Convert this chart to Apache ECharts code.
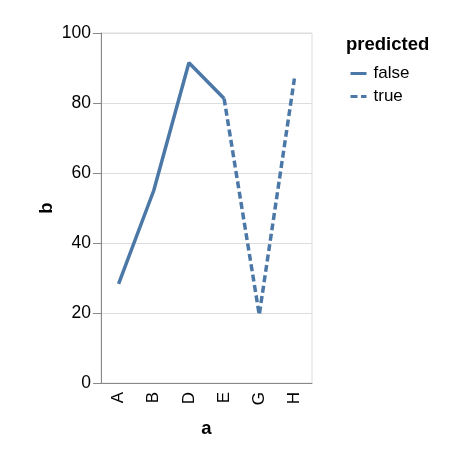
<!DOCTYPE html>
<html>
<head>
<meta charset="utf-8">
<script src="https://cdn.jsdelivr.net/npm/echarts@6/dist/echarts.min.js"></script>
<style>
  html, body { margin: 0; padding: 0; background: #fff; }
  #main { width: 474px; height: 465px; }
</style>
</head>
<body>
<div id="main"></div>
<script type="text/javascript">
    // data
    var categories = ['A', 'B', 'D', 'E', 'G', 'H'];
    var predFalse = [28.3, 55, 91.5, 81.3, null, null];
    var predTrue = [null, null, null, 81.3, 19.5, 87];
    var yTicks = { min: 0, max: 100, interval: 20 };

    var font = 'Liberation Sans, Helvetica, Arial, sans-serif';
    var blue = '#4c78a8';

    var myChart = echarts.init(document.getElementById('main'));
    myChart.setOption({
        animation: false,
        textStyle: { fontFamily: font },
        title: {
            text: 'predicted',
            left: 341,
            top: 30,
            textStyle: { fontSize: 18.5, fontWeight: 'bold', color: '#000', fontFamily: font }
        },
        legend: {
            orient: 'vertical',
            left: 344,
            top: 60,
            itemWidth: 16,
            itemHeight: 3,
            itemGap: 6,
            itemStyle: { opacity: 0 },
            lineStyle: { width: 3 },
            textStyle: { fontSize: 17, color: '#000', fontFamily: font, padding: [0, 0, 0, 2] },
            data: ['false', 'true']
        },
        grid: {
            left: 101,
            right: 162,
            top: 33,
            bottom: 82,
            show: true,
            borderColor: '#ddd',
            borderWidth: 1
        },
        xAxis: {
            type: 'category',
            data: categories,
            boundaryGap: true,
            name: 'a',
            nameLocation: 'middle',
            nameGap: 36,
            nameTextStyle: { fontSize: 18.5, fontWeight: 'bold', color: '#000' },
            axisLine: { lineStyle: { color: '#888', width: 1 } },
            axisTick: { alignWithLabel: true, length: 8, lineStyle: { color: '#888' } },
            axisLabel: { rotate: 90, fontSize: 17, color: '#000', margin: 9 },
            splitLine: { show: false }
        },
        yAxis: {
            type: 'value',
            min: yTicks.min,
            max: yTicks.max,
            interval: yTicks.interval,
            name: 'b',
            nameLocation: 'middle',
            nameGap: 45,
            nameTextStyle: { fontSize: 18.5, fontWeight: 'bold', color: '#000' },
            axisLine: { show: true, lineStyle: { color: '#888', width: 1 } },
            axisTick: { show: true, length: 8, lineStyle: { color: '#888' } },
            axisLabel: { fontSize: 17.5, color: '#000', margin: 10 },
            splitLine: { lineStyle: { color: '#ddd', width: 1 } }
        },
        series: [{
            name: 'false',
            type: 'line',
            data: predFalse,
            symbol: 'none',
            lineStyle: { color: blue, width: 3.5 },
            itemStyle: { color: blue }
        }, {
            name: 'true',
            type: 'line',
            data: predTrue,
            symbol: 'none',
            lineStyle: { color: blue, width: 3.5, type: [7, 3.5] },
            itemStyle: { color: blue }
        }]
    });
</script>
</body>
</html>
